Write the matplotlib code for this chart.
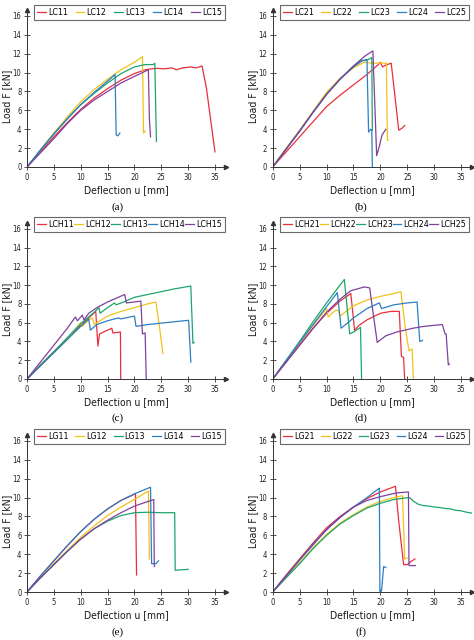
import matplotlib
matplotlib.use("Agg")
import matplotlib.pyplot as plt

plt.rcParams['font.family'] = ['DejaVu Sans']
plt.rcParams['font.stretch'] = 'condensed'

# colours of the five specimens in every panel
colors = ['#e8303c', '#f2c21b', '#1ea56c', '#2c7fc1', '#80409f']

# ---- (a) LC1x
LC11_X = [0, 2.5, 5, 7.5, 10, 12.5, 15, 17.5, 20, 22, 24, 25.5, 27, 27.8, 29, 30.5, 31.5, 32.6, 33.4, 34.2, 35.0]
LC11_Y = [0, 1.6, 3.2, 4.7, 6.1, 7.3, 8.3, 9.2, 9.9, 10.3, 10.45, 10.4, 10.5, 10.3, 10.5, 10.6, 10.5, 10.7, 8.4, 5.0, 1.6]
LC12_X = [0, 2.5, 5, 7.5, 10, 12.5, 15, 17.5, 20, 21.5, 21.7, 22.0]
LC12_Y = [0, 1.8, 3.6, 5.3, 6.9, 8.2, 9.3, 10.3, 11.1, 11.7, 3.6, 3.8]
LC13_X = [0, 2.5, 5, 7.5, 10, 12.5, 15, 17.5, 20, 22, 23.5, 23.8, 24.1]
LC13_Y = [0, 1.8, 3.5, 5.1, 6.6, 7.8, 8.9, 9.9, 10.6, 10.85, 10.85, 11.0, 2.7]
LC14_X = [0, 2.5, 5, 7.5, 10, 12.5, 15, 16.4, 16.6, 16.9, 17.3]
LC14_Y = [0, 1.8, 3.5, 5.1, 6.6, 7.9, 9.1, 9.8, 3.4, 3.3, 3.6]
LC15_X = [0, 2.5, 5, 7.5, 10, 12.5, 15, 17.5, 20, 22.6, 22.8, 23.0]
LC15_Y = [0, 1.5, 3.0, 4.6, 6.0, 7.1, 8.0, 8.9, 9.6, 10.3, 5.0, 3.2]

# ---- (b) LC2x
LC21_X = [0, 2.5, 5, 7.5, 10, 12.5, 15, 17.5, 19.5, 20.0, 20.4, 21.0, 22.0, 22.6, 23.4, 24.0, 24.5]
LC21_Y = [0, 1.6, 3.2, 4.8, 6.4, 7.6, 8.7, 9.8, 10.8, 11.1, 10.6, 10.8, 11.0, 8.0, 3.9, 4.1, 4.4]
LC22_X = [0, 2.5, 5, 7.5, 10, 12.5, 15, 17, 18.5, 20, 21.1, 21.3, 21.4]
LC22_Y = [0, 2.0, 3.9, 5.9, 7.9, 9.4, 10.5, 11.1, 11.0, 11.0, 11.0, 2.8, 2.9]
LC23_X = [0, 2.5, 5, 7.5, 10, 12.5, 15, 16.5, 17.5, 18.4, 18.5]
LC23_Y = [0, 1.9, 3.8, 5.8, 7.7, 9.3, 10.7, 11.3, 11.3, 11.6, 3.9]
LC24_X = [0, 2.5, 5, 7.5, 10, 12.5, 15, 16.5, 17.5, 17.8, 18.2, 18.4, 18.5]
LC24_Y = [0, 1.9, 3.8, 5.8, 7.7, 9.3, 10.6, 11.2, 11.4, 3.7, 4.0, 3.9, 0]
LC25_X = [0, 2.5, 5, 7.5, 10, 12.5, 15, 17, 18.6, 19.3, 19.8, 20.3, 21.0]
LC25_Y = [0, 1.9, 3.8, 5.8, 7.7, 9.3, 10.7, 11.7, 12.3, 1.2, 2.2, 3.4, 4.0]

# ---- (c) LCH1x
LCH11_X = [0, 2.5, 5, 7.5, 10, 12.8, 13.2, 13.5, 15, 15.8, 16.0, 17.4, 17.45]
LCH11_Y = [0, 1.5, 2.9, 4.3, 5.7, 7.2, 3.5, 4.8, 5.2, 5.4, 4.9, 5.0, 0]
LCH12_X = [0, 2.5, 5, 7.5, 10.0, 10.3, 11.5, 12.2, 12.5, 15, 17.5, 20, 22.5, 24, 24.8, 25.3]
LCH12_Y = [0, 1.4, 2.8, 4.2, 6.0, 5.6, 6.3, 6.5, 5.8, 6.7, 7.2, 7.6, 8.0, 8.2, 5.0, 2.7]
LCH13_X = [0, 2.5, 5, 7.5, 10, 12.5, 13.4, 13.6, 15, 16.3, 16.6, 18, 20, 22.5, 25, 27.5, 30.5, 30.9, 31.1]
LCH13_Y = [0, 1.45, 2.9, 4.4, 5.9, 7.1, 7.6, 7.0, 7.6, 8.1, 7.9, 8.2, 8.7, 9.0, 9.3, 9.6, 9.9, 3.8, 3.9]
LCH14_X = [0, 2.5, 5, 7.5, 10, 11.5, 11.8, 13, 15, 17, 17.5, 20.0, 20.3, 22.5, 25, 27.5, 30.1, 30.5]
LCH14_Y = [0, 1.4, 2.8, 4.2, 5.6, 6.4, 5.2, 5.8, 6.2, 6.5, 6.4, 6.7, 5.6, 5.8, 5.95, 6.1, 6.25, 1.8]
LCH15_X = [0, 2.5, 5, 7.5, 9.0, 9.4, 10.3, 10.6, 11.5, 13, 15, 17, 18.2, 18.5, 20, 21.2, 21.5, 22.0, 22.2]
LCH15_Y = [0, 1.8, 3.6, 5.4, 6.6, 6.2, 6.8, 6.3, 7.0, 7.6, 8.2, 8.7, 9.0, 8.1, 8.2, 8.3, 4.8, 4.9, 0]

# ---- (d) LCH2x
LCH21_X = [0, 2.5, 5, 7.5, 10, 12.5, 14.5, 15.2, 16, 17.5, 20, 22, 23.5, 23.9, 24.3, 24.5]
LCH21_Y = [0, 1.8, 3.6, 5.4, 7.0, 8.3, 9.1, 5.2, 5.7, 6.3, 7.0, 7.2, 7.2, 2.4, 2.3, 0]
LCH22_X = [0, 2.5, 5, 7.5, 10, 10.3, 11, 11.7, 12.2, 12.5, 15, 17.5, 20, 22.5, 23.8, 24.6, 25.3, 25.9, 26.1]
LCH22_Y = [0, 1.9, 3.8, 5.7, 7.5, 6.6, 7.0, 7.3, 7.3, 6.7, 7.8, 8.4, 8.8, 9.1, 9.3, 5.5, 3.0, 3.2, 0]
LCH23_X = [0, 2.5, 5, 7.5, 10, 13.3, 14.3, 15, 16.3, 16.5]
LCH23_Y = [0, 2.0, 4.0, 6.1, 8.1, 10.6, 4.8, 5.0, 5.5, 0]
LCH24_X = [0, 2.5, 5, 7.5, 10, 12.0, 12.7, 15, 17.5, 19.8, 20.2, 22.5, 25, 26.8, 27.3, 27.8]
LCH24_Y = [0, 1.95, 3.9, 5.8, 7.7, 9.2, 5.4, 6.5, 7.5, 8.1, 7.5, 7.9, 8.1, 8.2, 4.0, 4.1]
LCH25_X = [0, 2.5, 5, 7.5, 10, 12.5, 14.5, 17, 18, 19.4, 21, 23, 26, 28, 31.5, 32.0, 32.2, 32.6, 32.8]
LCH25_Y = [0, 1.8, 3.6, 5.4, 7.1, 8.5, 9.4, 9.8, 9.7, 3.9, 4.6, 5.0, 5.4, 5.6, 5.8, 4.8, 4.8, 1.5, 1.6]

# ---- (e) LG1x
LG11_X = [0, 2.5, 5, 7.5, 10, 12.5, 15, 17.5, 20.2, 20.4]
LG11_Y = [0, 1.7, 3.3, 4.9, 6.4, 7.7, 8.8, 9.7, 10.4, 1.8]
LG12_X = [0, 2.5, 5, 7.5, 10, 12.5, 15, 17.5, 20, 22.6, 22.8]
LG12_Y = [0, 1.5, 3.0, 4.4, 5.8, 7.0, 8.1, 9.0, 9.8, 10.7, 3.5]
LG13_X = [0, 2.5, 5, 7.5, 10, 12.5, 15, 17.5, 20, 22.5, 25, 27.5, 27.6, 30]
LG13_Y = [0, 1.5, 2.9, 4.3, 5.6, 6.7, 7.5, 8.1, 8.4, 8.45, 8.4, 8.4, 2.3, 2.4]
LG14_X = [0, 2.5, 5, 7.5, 10, 12.5, 15, 17.5, 20, 23.0, 23.2, 24, 24.5]
LG14_Y = [0, 1.7, 3.3, 4.9, 6.4, 7.7, 8.8, 9.7, 10.4, 11.1, 3.0, 3.0, 3.3]
LG15_X = [0, 2.5, 5, 7.5, 10, 12.5, 15, 17.5, 20, 23.6, 23.7]
LG15_Y = [0, 1.5, 2.9, 4.3, 5.6, 6.7, 7.6, 8.4, 9.1, 9.8, 2.7]

# ---- (f) LG2x
LG21_X = [0, 2.5, 5, 7.5, 10, 12.5, 15, 17.5, 20, 22.8, 23.4, 24.3, 25, 25.6, 26.4]
LG21_Y = [0, 1.8, 3.5, 5.2, 6.8, 8.0, 9.0, 9.9, 10.6, 11.2, 7.5, 2.9, 2.9, 3.2, 3.5]
LG22_X = [0, 2.5, 5, 7.5, 10, 12.5, 15, 17.5, 20, 22.5, 24.1, 24.5, 25.0]
LG22_Y = [0, 1.6, 3.1, 4.7, 6.1, 7.3, 8.2, 9.0, 9.6, 10.0, 10.2, 3.5, 3.6]
LG23_X = [0, 2.5, 5, 7.5, 10, 12.5, 15, 17.5, 20, 22.5, 24.5, 25.4, 26.2, 27.0, 28.0, 29, 30, 31, 32, 33, 34, 35, 36, 37]
LG23_Y = [0, 1.5, 3.0, 4.6, 6.0, 7.2, 8.1, 8.9, 9.4, 9.8, 9.95, 10.0, 9.6, 9.3, 9.15, 9.1, 9.0, 8.95, 8.85, 8.8, 8.65, 8.6, 8.45, 8.35]
LG24_X = [0, 2.5, 5, 7.5, 10, 12.5, 15, 17.5, 19.8, 19.9, 20.2, 20.6, 21.0]
LG24_Y = [0, 1.7, 3.4, 5.1, 6.6, 7.9, 9.0, 10.0, 11.0, 0, 0.1, 2.7, 2.6]
LG25_X = [0, 2.5, 5, 7.5, 10, 12.5, 15, 17.5, 20, 23, 25.2, 25.3, 26.5]
LG25_Y = [0, 1.7, 3.4, 5.0, 6.6, 7.9, 9.0, 9.7, 10.1, 10.5, 10.6, 2.8, 2.8]

panels = [
    ('(a)', ['LC11', 'LC12', 'LC13', 'LC14', 'LC15'],
     [(LC11_X, LC11_Y), (LC12_X, LC12_Y), (LC13_X, LC13_Y), (LC14_X, LC14_Y), (LC15_X, LC15_Y)]),
    ('(b)', ['LC21', 'LC22', 'LC23', 'LC24', 'LC25'],
     [(LC21_X, LC21_Y), (LC22_X, LC22_Y), (LC23_X, LC23_Y), (LC24_X, LC24_Y), (LC25_X, LC25_Y)]),
    ('(c)', ['LCH11', 'LCH12', 'LCH13', 'LCH14', 'LCH15'],
     [(LCH11_X, LCH11_Y), (LCH12_X, LCH12_Y), (LCH13_X, LCH13_Y), (LCH14_X, LCH14_Y), (LCH15_X, LCH15_Y)]),
    ('(d)', ['LCH21', 'LCH22', 'LCH23', 'LCH24', 'LCH25'],
     [(LCH21_X, LCH21_Y), (LCH22_X, LCH22_Y), (LCH23_X, LCH23_Y), (LCH24_X, LCH24_Y), (LCH25_X, LCH25_Y)]),
    ('(e)', ['LG11', 'LG12', 'LG13', 'LG14', 'LG15'],
     [(LG11_X, LG11_Y), (LG12_X, LG12_Y), (LG13_X, LG13_Y), (LG14_X, LG14_Y), (LG15_X, LG15_Y)]),
    ('(f)', ['LG21', 'LG22', 'LG23', 'LG24', 'LG25'],
     [(LG21_X, LG21_Y), (LG22_X, LG22_Y), (LG23_X, LG23_Y), (LG24_X, LG24_Y), (LG25_X, LG25_Y)]),
]

W, H = 474.0, 640.0
# pixel layout of each panel: axes left, axes bottom, axes top, legend left/right/top
left_px = [27, 272.7]
right_px = [225.7, 472]
rows_px = [(167, 10.3), (379, 223.1), (592, 435.3)]
leg_x = [(34, 225), (280, 469)]
leg_top = [5, 217, 429]
caption_y = [207, 418, 632]
caption_x = [118, 361]

axis_col = '#333333'


def draw_panel(fig, idx, caption, names, curves):
    col, row = idx % 2, idx // 2
    bot, top = rows_px[row]
    ax = fig.add_axes([left_px[col] / W, 1 - bot / H,
                       (right_px[col] - left_px[col]) / W, (bot - top) / H])
    lines = []
    for (x, y), c in zip(curves, colors):
        ln, = ax.plot(x, y, color=c, lw=0.9)
        lines.append(ln)
    ax.set_xlim(0, 37)
    ax.set_ylim(0, 16.6)
    ax.set_xticks(range(0, 36, 5))
    ax.set_yticks(range(0, 17, 2))
    for s in ['top', 'right']:
        ax.spines[s].set_visible(False)
    for s in ['left', 'bottom']:
        ax.spines[s].set_color(axis_col)
        ax.spines[s].set_linewidth(0.7)
    ax.tick_params(direction='inout', length=4, width=0.6, color=axis_col,
                   labelsize=5.5, labelcolor='#222222', pad=2)
    ax.plot(1, 0, '>', color=axis_col, ms=3, transform=ax.transAxes, clip_on=False)
    ax.plot(0, 1, '^', color=axis_col, ms=3, transform=ax.transAxes, clip_on=False)
    ax.set_xlabel('Deflection u [mm]', fontsize=7.5, color='#1a1a1a', fontweight='medium')
    ax.xaxis.set_label_coords(0.5, -18.0 / (bot - top), transform=ax.transAxes)
    ax.set_ylabel('Load F [kN]', fontsize=7.5, color='#1a1a1a', va='center', fontweight='medium')
    ax.yaxis.set_label_coords(-20.0 / (right_px[col] - left_px[col]), 0.45)

    x0, x1 = leg_x[col]
    ty = leg_top[row]
    leg = ax.legend(lines, names, loc='upper left', ncol=5, mode='expand',
                    bbox_to_anchor=(x0 / W, 1 - (ty + 15) / H, (x1 - x0) / W, 15 / H),
                    bbox_transform=fig.transFigure, fontsize=6.3, frameon=True,
                    fancybox=False, handlelength=1.0, handletextpad=0.25,
                    columnspacing=0.5, borderpad=0.35, borderaxespad=0)
    leg.get_frame().set_edgecolor('#444444')
    leg.get_frame().set_linewidth(0.8)

    fig.text(caption_x[col] / W, 1 - caption_y[row] / H, caption, ha='center', va='center',
             fontsize=8, family='Liberation Serif')


fig = plt.figure(figsize=(W / 100, H / 100), dpi=100)
for i, (cap, names, curves) in enumerate(panels):
    draw_panel(fig, i, cap, names, curves)

fig.savefig('out.png', dpi=100)
